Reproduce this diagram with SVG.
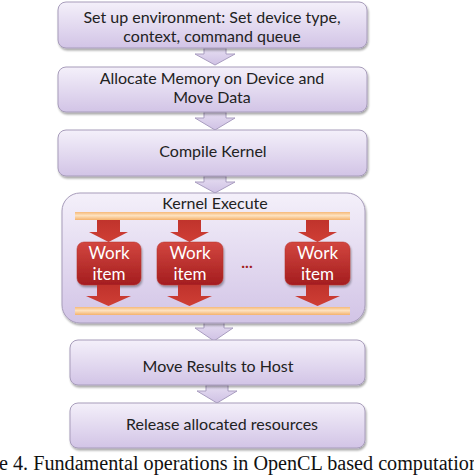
<svg xmlns="http://www.w3.org/2000/svg" width="474" height="475" viewBox="0 0 474 475">
<defs>
<linearGradient id="lav" x1="0" y1="0" x2="0" y2="1">
<stop offset="0" stop-color="#f4f0fa"/>
<stop offset="1" stop-color="#d2c4e6"/>
</linearGradient>
<linearGradient id="lavArrow" x1="0" y1="0" x2="0" y2="1">
<stop offset="0" stop-color="#e6def2"/>
<stop offset="1" stop-color="#cfc1e4"/>
</linearGradient>
<linearGradient id="red" x1="0" y1="0" x2="0" y2="1">
<stop offset="0" stop-color="#d2463f"/>
<stop offset="1" stop-color="#a41d1f"/>
</linearGradient>
<linearGradient id="redArrow" x1="0" y1="0" x2="0" y2="1">
<stop offset="0" stop-color="#c0332c"/>
<stop offset="1" stop-color="#cf3e35"/>
</linearGradient>
<linearGradient id="bar" x1="0" y1="0" x2="0" y2="1">
<stop offset="0" stop-color="#f6b978"/>
<stop offset="0.45" stop-color="#fde2c0"/>
<stop offset="1" stop-color="#f4b26c"/>
</linearGradient>
<filter id="sh" x="-5%" y="-10%" width="112%" height="125%">
<feGaussianBlur in="SourceAlpha" stdDeviation="1.2"/>
<feOffset dx="1" dy="1.5"/>
<feComponentTransfer><feFuncA type="linear" slope="0.35"/></feComponentTransfer>
<feMerge><feMergeNode/><feMergeNode in="SourceGraphic"/></feMerge>
</filter>
</defs>
<style>
.box{fill:url(#lav);stroke:#a79cba;stroke-width:1;filter:url(#sh)}
.t{font-family:Lato,"Open Sans",sans-serif;font-size:16px;fill:#222222;text-anchor:middle}
.w{font-family:Lato,"Open Sans",sans-serif;font-size:17px;fill:#ffffff;text-anchor:middle}
.la{fill:url(#lavArrow);stroke:#a99dc0;stroke-width:1}
.ra{fill:url(#redArrow)}
.wi{fill:url(#red);stroke:#b5302b;stroke-width:0.5;filter:url(#sh)}
.bar{fill:url(#bar)}
.cap{font-family:"Liberation Serif",serif;font-size:20px;fill:#111}
</style>
<g id="connectors">
<path class="la" d="M204,48 H226 V54 H235 L215,65 L195,54 H204 Z"/>
<path class="la" d="M204,112 H226 V118 H235 L215,130 L195,118 H204 Z"/>
<path class="la" d="M204,176 H226 V182 H235 L215,193 L195,182 H204 Z"/>
<path class="la" d="M204,322 H224 V328 H233 L214,341 L195,328 H204 Z"/>
<path class="la" d="M206,385 H228 V391 H237 L217,403 L197,391 H206 Z"/>
</g>
<g id="setup">
<rect class="box" x="58" y="2" width="309" height="46" rx="8"/>
<text class="t" x="212" y="23">Set up environment: Set device type,</text>
<text class="t" x="212" y="42">context, command queue</text>
</g>
<g id="allocate">
<rect class="box" x="58" y="67" width="309" height="45" rx="8"/>
<text class="t" x="212" y="84">Allocate Memory on Device and</text>
<text class="t" x="212" y="103">Move Data</text>
</g>
<g id="compile">
<rect class="box" x="58" y="130" width="309" height="46" rx="8"/>
<text class="t" x="213" y="157">Compile Kernel</text>
</g>
<g id="kernel-execute">
<rect class="box" x="62" y="193" width="303" height="130" rx="18"/>
<text class="t" x="215" y="209">Kernel Execute</text>
<rect class="bar" x="75" y="212" width="275" height="8"/>
<rect class="bar" x="75" y="307" width="275" height="8"/>
<g id="work-item-1">
<path class="ra" d="M97,220 H120 V232 H128 L108.5,242 L89,232 H97 Z"/>
<rect class="wi" x="77" y="242" width="64" height="43" rx="7"/>
<text class="w" x="109" y="259">Work</text>
<text class="w" x="109" y="280">item</text>
<path class="ra" d="M97,285 H120 V296 H131 L108.5,306 L86,296 H97 Z"/>
</g>
<g id="work-item-2">
<path class="ra" d="M178,220 H201 V232 H209 L189.5,242 L170,232 H178 Z"/>
<rect class="wi" x="157" y="242" width="66" height="43" rx="7"/>
<text class="w" x="190" y="259">Work</text>
<text class="w" x="190" y="280">item</text>
<path class="ra" d="M178,285 H201 V296 H212 L189.5,306 L167,296 H178 Z"/>
</g>
<text x="247" y="268" style="font-family:Lato,sans-serif;font-size:16px;fill:#a0201c;text-anchor:middle;font-weight:bold">...</text>
<g id="work-item-3">
<path class="ra" d="M306,220 H329 V232 H337 L317.5,242 L298,232 H306 Z"/>
<rect class="wi" x="285" y="242" width="65" height="43" rx="7"/>
<text class="w" x="317.5" y="259">Work</text>
<text class="w" x="317.5" y="280">item</text>
<path class="ra" d="M306,285 H329 V296 H340 L317.5,306 L295,296 H306 Z"/>
</g>
</g>
<g id="move-results">
<rect class="box" x="70" y="340" width="295" height="45" rx="8"/>
<text class="t" x="218" y="372">Move Results to Host</text>
</g>
<g id="release">
<rect class="box" x="70" y="403" width="295" height="45" rx="8"/>
<text class="t" x="222" y="430">Release allocated resources</text>
</g>
<text class="cap" x="-1" y="470" textLength="480" lengthAdjust="spacingAndGlyphs">e 4. Fundamental operations in OpenCL based computation</text>
</svg>
